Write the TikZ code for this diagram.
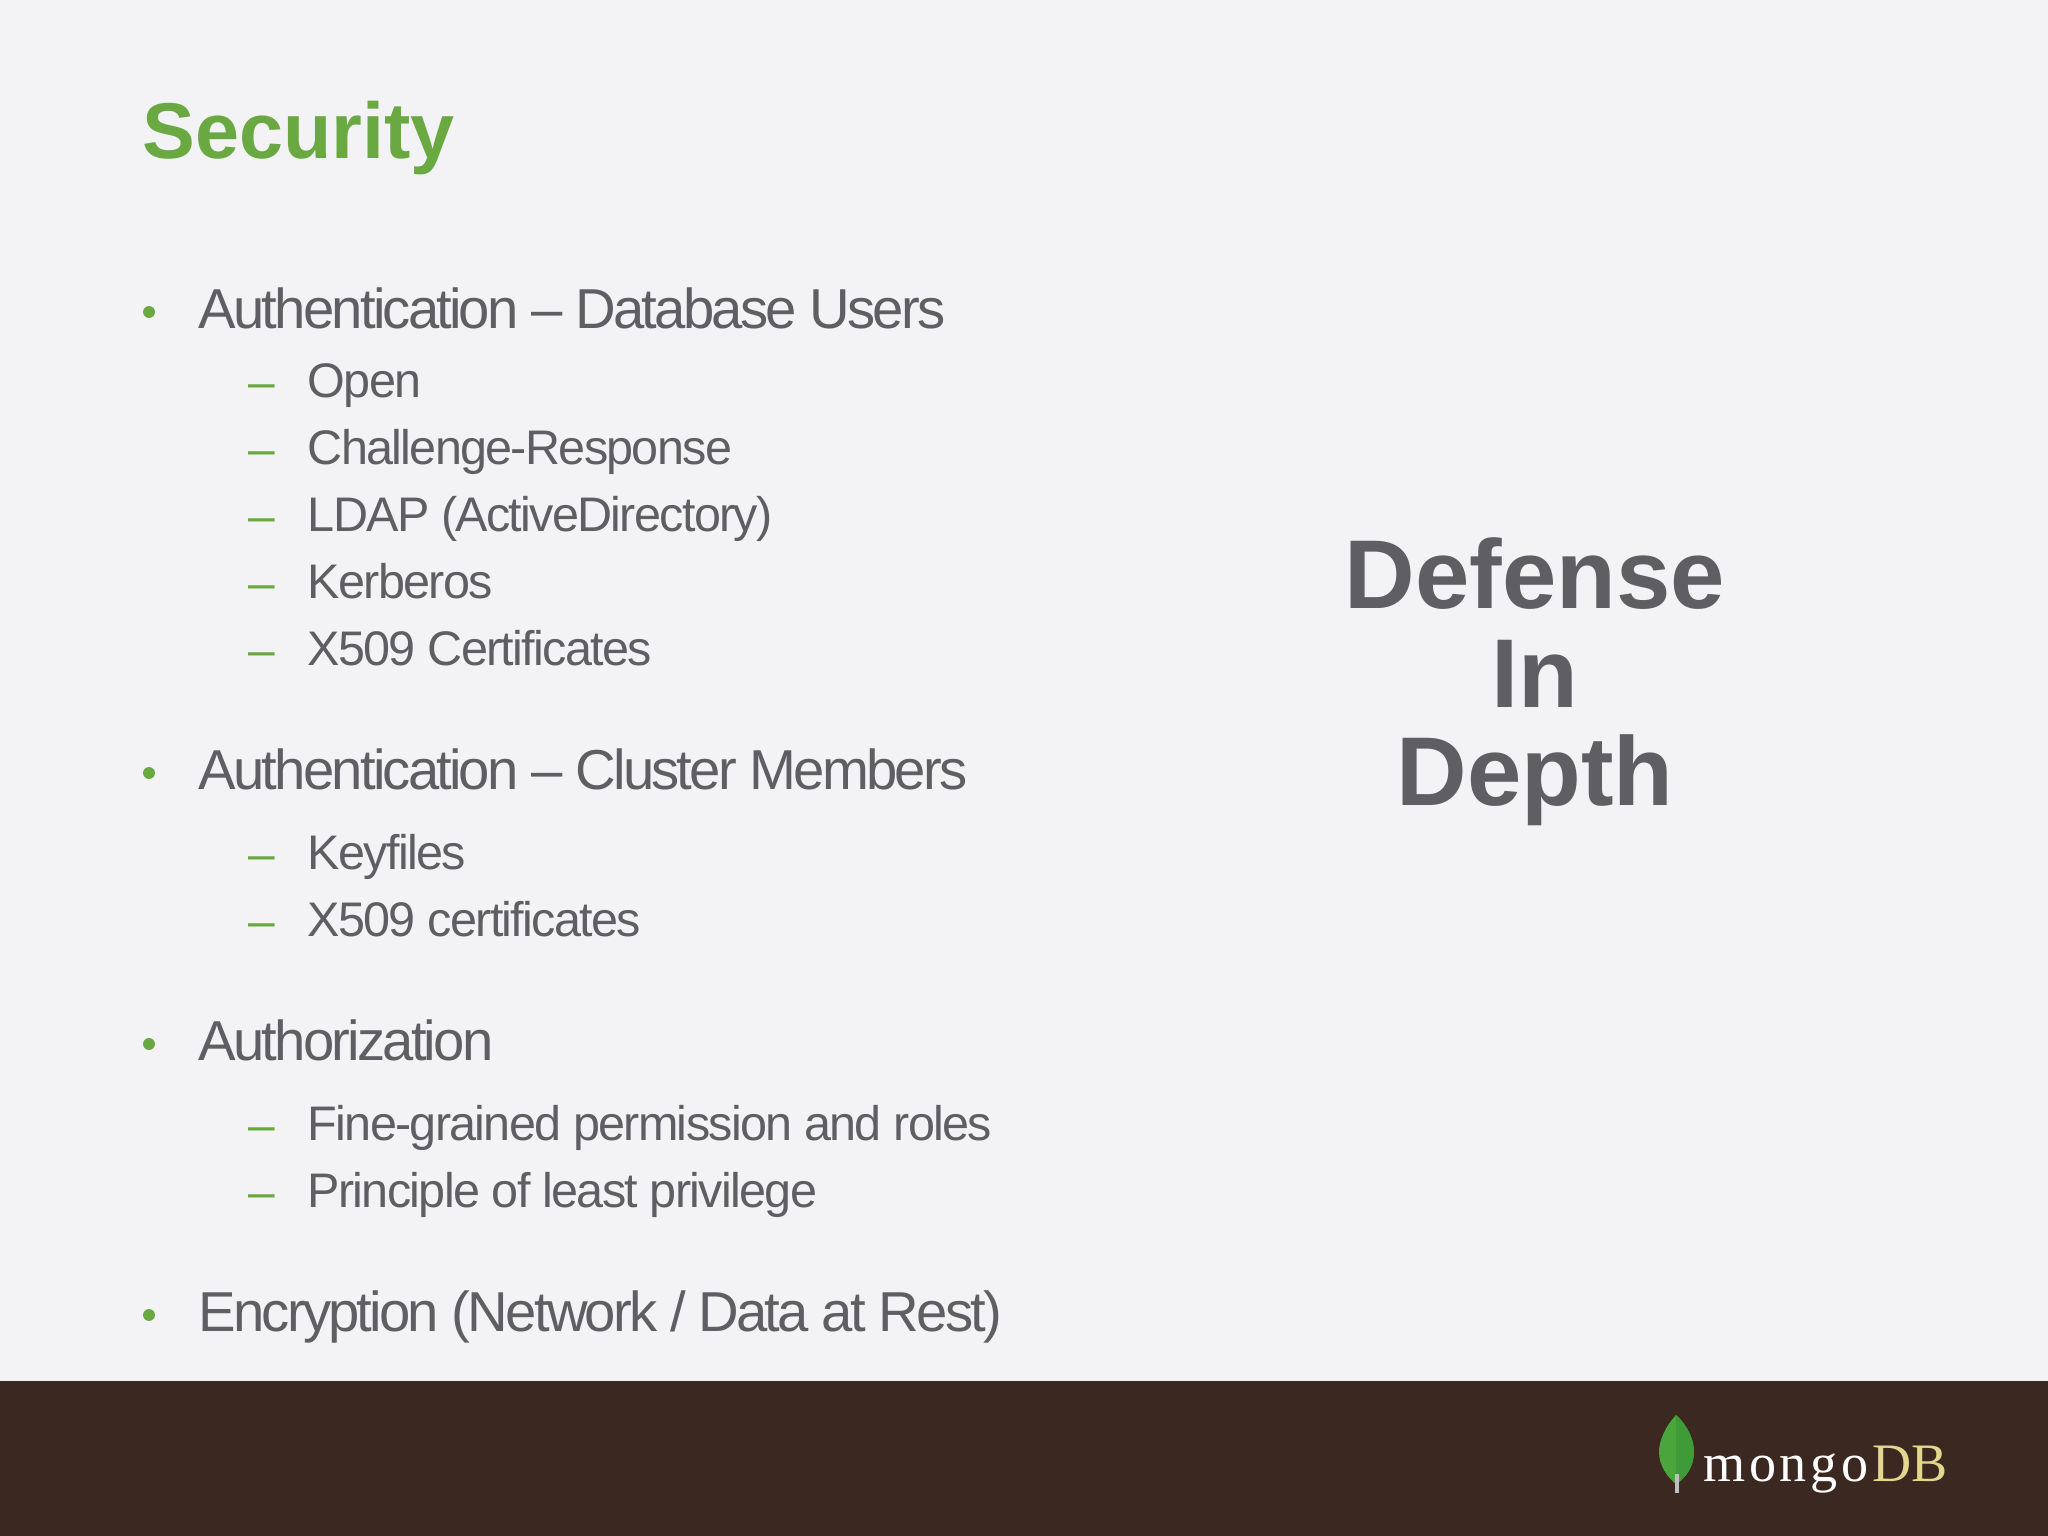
\documentclass[tikz,border=0pt]{standalone}
\usepackage{fontspec}
\usepackage{tikz}
\setmainfont{Liberation Sans}
\newfontfamily\tightfont{Liberation Sans}[LetterSpace=-3.5]
\newfontfamily\tighterfont{Liberation Sans}[LetterSpace=-5]
\newfontfamily\logofont{Liberation Serif}[LetterSpace=6.5]
\newfontfamily\dbfont{Liberation Serif}
\definecolor{slidebg}{HTML}{F3F3F5}
\definecolor{footerbrown}{HTML}{3B2820}
\definecolor{titlegreen}{HTML}{6AA842}
\definecolor{textgray}{HTML}{5F5E62}
\definecolor{leafgreen}{HTML}{4AA63C}
\definecolor{leafdark}{HTML}{3F9A38}
\definecolor{dbgold}{HTML}{E3D68F}
\tikzset{
  pagetitle/.style={inner sep=0,anchor=base west,text=titlegreen,font=\fontsize{22.5}{26}\selectfont\bfseries},
  itemtext/.style={inner sep=0,anchor=base west,text=textgray,font=\fontsize{16}{19}\tighterfont},
  subtext/.style={inner sep=0,anchor=base west,text=textgray,font=\fontsize{13.8}{16}\tightfont},
  dotmark/.style={circle,fill=titlegreen,inner sep=0,minimum size=3.4pt},
  dashmark/.style={inner sep=0,anchor=base west,text=titlegreen,font=\fontsize{13.6}{16}\selectfont},
  sidetext/.style={inner sep=0,anchor=base,text=textgray,font=\fontsize{27.8}{32}\selectfont\bfseries},
  logotext/.style={inner sep=0,anchor=base west,font=\fontsize{15.4}{18}\logofont},
  dbtext/.style={inner sep=0,anchor=base west,font=\fontsize{15.4}{18}\dbfont}
}
\begin{document}
\begin{tikzpicture}[x=0.01cm,y=-0.01cm]
\useasboundingbox (0,0) rectangle (2048,1536);
\fill[slidebg] (0,0) rectangle (2048,1381);
\fill[footerbrown] (0,1381) rectangle (2048,1536);
% title
\node[pagetitle] (title) at (142,158) {Security};
% database users
\node[dotmark] (dotusers) at (149,312) {};
\node[itemtext] (users) at (198,328) {Authentication – Database Users};
\node[dashmark] (dashopen) at (248,398) {–};
\node[subtext] (open) at (307,397) {Open};
\node[dashmark] (dashchallenge) at (248,465) {–};
\node[subtext] (challenge) at (307,464) {Challenge-Response};
\node[dashmark] (dashldap) at (248,532) {–};
\node[subtext] (ldap) at (307,531) {LDAP (ActiveDirectory)};
\node[dashmark] (dashkerberos) at (248,599) {–};
\node[subtext] (kerberos) at (307,598) {Kerberos};
\node[dashmark] (dashcerts) at (248,666) {–};
\node[subtext] (certs) at (307,665) {X509 Certificates};
% cluster members
\node[dotmark] (dotcluster) at (149,773) {};
\node[itemtext] (cluster) at (198,789) {Authentication – Cluster Members};
\node[dashmark] (dashkeyfiles) at (248,870) {–};
\node[subtext] (keyfiles) at (307,869) {Keyfiles};
\node[dashmark] (dashclustercerts) at (248,937) {–};
\node[subtext] (clustercerts) at (307,936) {X509 certificates};
% authorization
\node[dotmark] (dotauthz) at (149,1044) {};
\node[itemtext] (authz) at (198,1060) {Authorization};
\node[dashmark] (dashroles) at (248,1141) {–};
\node[subtext] (roles) at (307,1140) {Fine-grained permission and roles};
\node[dashmark] (dashprivilege) at (248,1208) {–};
\node[subtext] (privilege) at (307,1207) {Principle of least privilege};
% encryption
\node[dotmark] (dotencrypt) at (149,1315) {};
\node[itemtext] (encrypt) at (198,1331) {Encryption (Network / Data at Rest)};
% right side
\node[sidetext] (defense) at (1535,608) {Defense};
\node[sidetext] (in) at (1535,707) {In};
\node[sidetext] (depth) at (1535,805) {Depth};
% logo
\fill[leafgreen] (1676,1415) .. controls (1664,1428) and (1659,1442) .. (1659,1452)
  .. controls (1659,1466) and (1668,1478) .. (1676,1484)
  .. controls (1686,1478) and (1694,1466) .. (1694,1452)
  .. controls (1694,1440) and (1688,1426) .. (1676,1415) -- cycle;
\fill[leafdark] (1676,1415) .. controls (1688,1426) and (1694,1440) .. (1694,1452)
  .. controls (1694,1466) and (1686,1478) .. (1676,1484) -- cycle;
\draw[line width=1pt,gray!50] (1677,1474) -- (1677,1493);
\node[logotext,text=white] (mongo) at (1703,1481) {mongo};
\node[dbtext,text=dbgold] (db) at (1872,1481) {DB};
\end{tikzpicture}
\end{document}
